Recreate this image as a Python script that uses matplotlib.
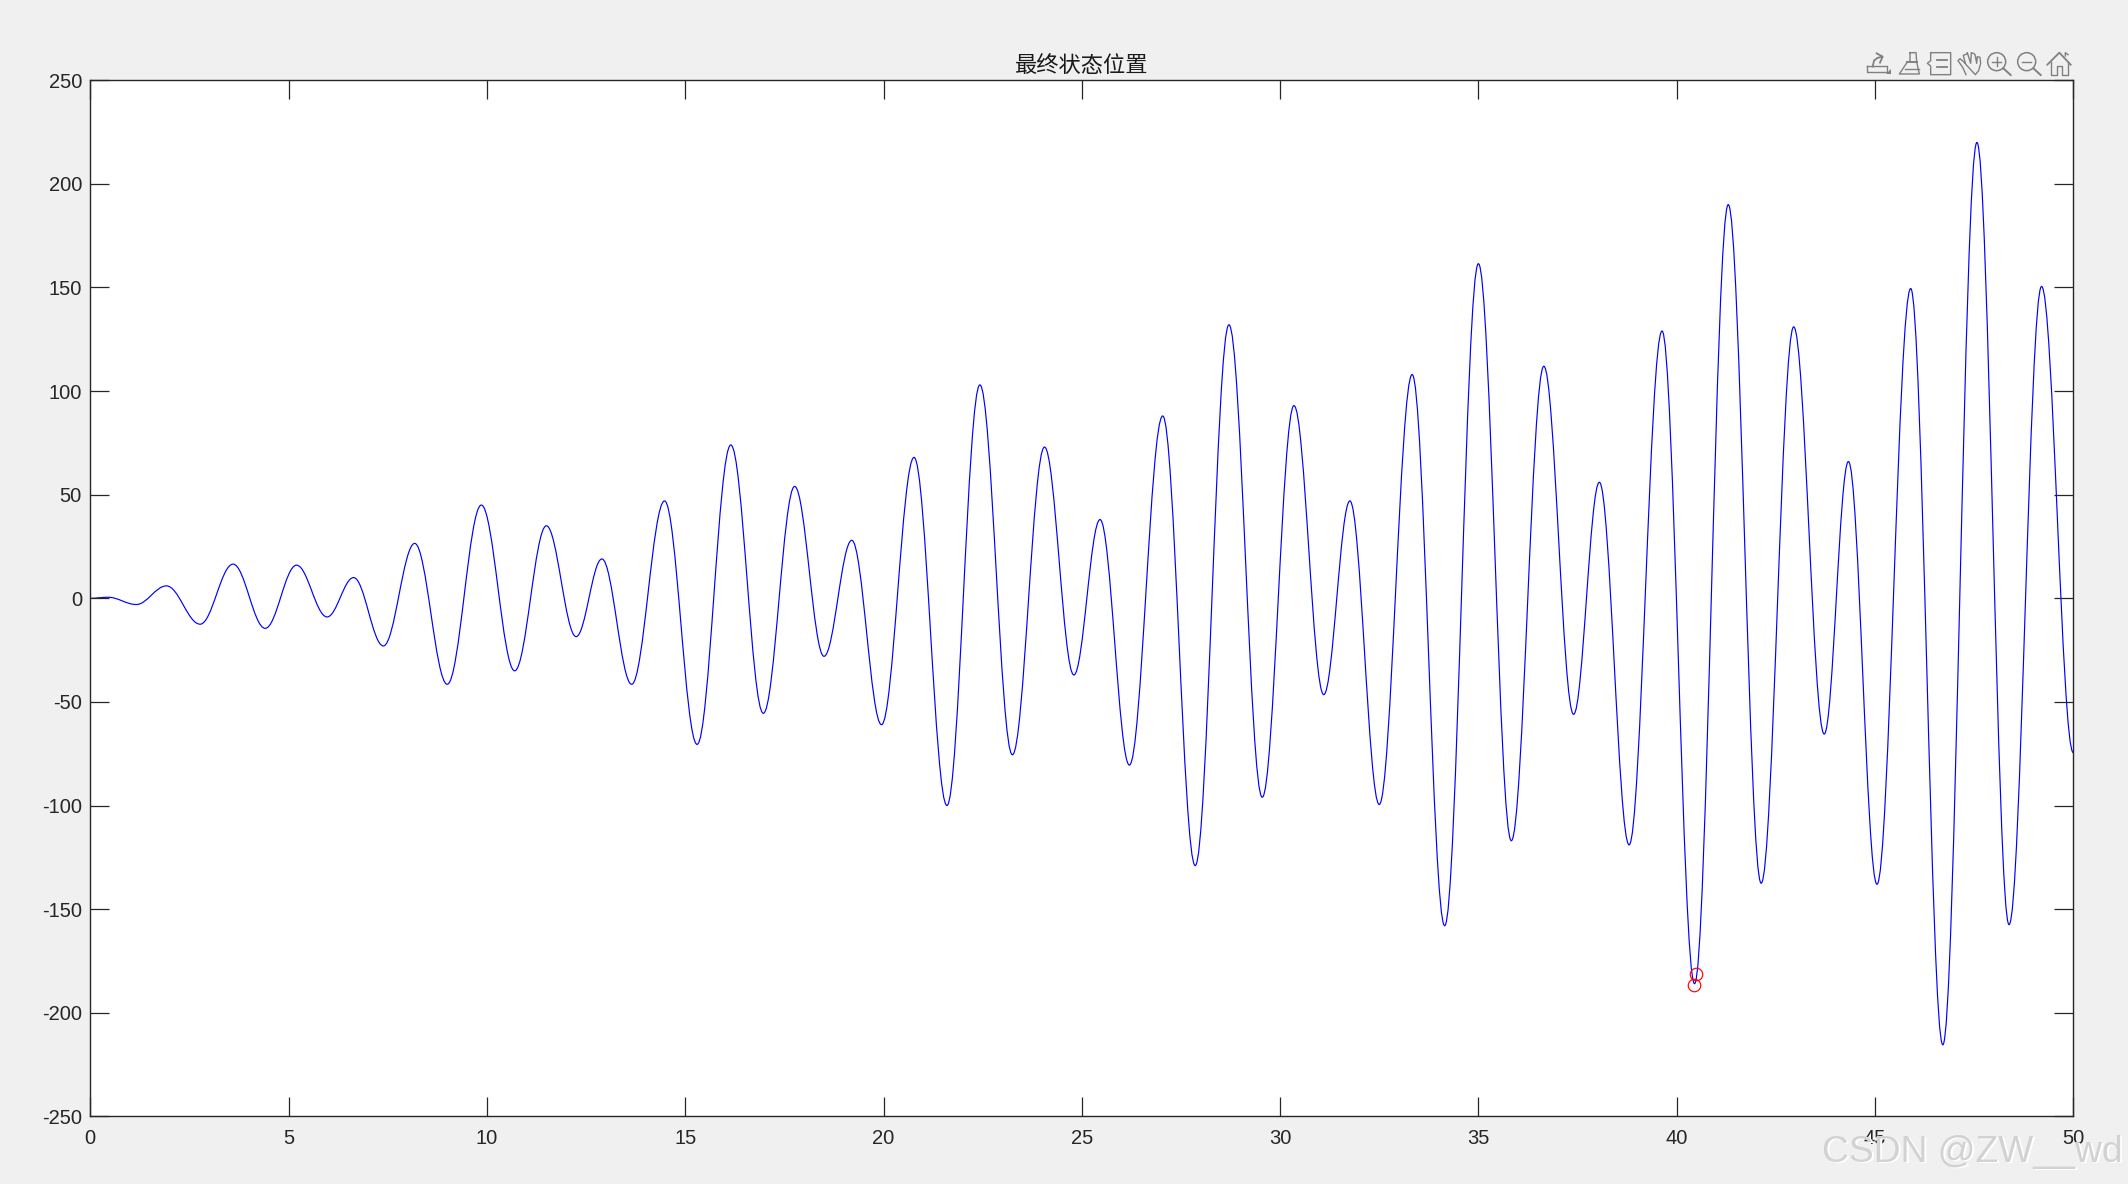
import matplotlib
matplotlib.use("Agg")
import matplotlib.pyplot as plt
from matplotlib.lines import Line2D
from matplotlib.patches import Circle, PathPatch, Polygon
from matplotlib.path import Path
from matplotlib.transforms import Affine2D

plt.rcParams["font.family"] = ["Liberation Sans", "Noto Sans CJK SC", "DejaVu Sans"]
plt.rcParams["axes.unicode_minus"] = False

# turning points of the curve
peak_t = [0, 0.45, 1.16, 1.92, 2.77, 3.6, 4.41, 5.2, 5.97, 6.64, 7.39, 8.18, 9.0,
          9.86, 10.7, 11.5, 12.25, 12.9, 13.65, 14.48, 15.3, 16.15, 16.97, 17.76,
          18.5, 19.2, 19.95, 20.77, 21.6, 22.43, 23.25, 24.06, 24.8, 25.46, 26.2,
          27.04, 27.86, 28.71, 29.55, 30.35, 31.1, 31.76, 32.5, 33.33, 34.15, 35.0,
          35.83, 36.65, 37.4, 38.05, 38.8, 39.63, 40.45, 41.3, 42.13, 42.95, 43.72,
          44.33, 45.05, 45.9, 46.71, 47.57, 48.38, 49.2, 50.0]
peak_y = [0, 0.5, -3, 6, -12.5, 16.5, -14.5, 16, -9, 10, -23, 26.5, -41.5,
          45, -35, 35, -18.5, 19, -41.5, 47, -70.5, 74, -55.5, 54,
          -28, 28, -61, 68, -100, 103, -75.5, 73, -37, 38, -80.5,
          88, -129, 132, -96, 93, -46.5, 47, -99.5, 108, -158, 161.5,
          -117, 112, -56, 56, -119, 129, -186, 190, -137.5, 131, -65.5,
          66, -138, 149.5, -215.5, 220, -157.5, 150.5, -74.5]

marker_t = [40.43, 40.49]
marker_y = [-186.6, -181.2]

x_ticks = list(range(0, 51, 5))
y_ticks = list(range(-250, 251, 50))

W, H = 2128, 1184
BG = "#f0f0f0"
DARK = "#262626"
ICON = "#808080"

fig = plt.figure(figsize=(W / 100, H / 100), dpi=100, facecolor=BG)
ax = fig.add_axes([90.3 / W, (H - 1116.3) / H, 1983 / W, 1036 / H])

# smooth curve through the turning points, flat tangent at each one
verts = [(peak_t[0], peak_y[0])]
codes = [Path.MOVETO]
for i in range(len(peak_t) - 1):
    dt = peak_t[i + 1] - peak_t[i]
    verts.append((peak_t[i] + 0.3642 * dt, peak_y[i]))
    verts.append((peak_t[i + 1] - 0.3642 * dt, peak_y[i + 1]))
    verts.append((peak_t[i + 1], peak_y[i + 1]))
    codes += [Path.CURVE4, Path.CURVE4, Path.CURVE4]
ax.add_patch(PathPatch(Path(verts, codes), fill=False, edgecolor="#0000ff", lw=0.85))

ax.plot(marker_t, marker_y, "o", mfc="none", mec="#ff0000", ms=9, mew=0.85, ls="none")

ax.set_xlim(0, 50)
ax.set_ylim(-250, 250)
ax.set_xticks(x_ticks)
ax.set_yticks(y_ticks)
ax.tick_params(axis="both", which="major", direction="in", top=True, right=True,
               length=13.5, width=0.9, color=DARK, labelcolor=DARK, labelsize=14.5)
ax.tick_params(axis="x", pad=9.5)
ax.tick_params(axis="y", pad=6)
for s in ax.spines.values():
    s.set_linewidth(1.0)
    s.set_color(DARK)

fig.text(1082 / W, 1 - 66 / H, "最终状态位置", fontsize=16, color="#1a1a1a",
         family=["Noto Sans CJK SC"], ha="center", va="center")

# MATLAB toolbar icons, coordinates in the 3x crop of the top right corner
tr = Affine2D().scale(1 / 3, -1 / 3).translate(1800, H - 30)


def icon_line(xs, ys, lw=1.0):
    fig.add_artist(Line2D(xs, ys, color=ICON, lw=lw, transform=tr))


def icon_glass(cx):
    fig.add_artist(Circle((cx, 95), 27, fill=False, ec=ICON, lw=1.1, transform=tr))
    icon_line([cx + 20, cx + 42], [115, 135], 1.4)
    icon_line([cx - 14, cx + 14], [95, 95])


# edit plot
icon_line([202, 202, 262, 262, 202], [108, 125, 125, 108, 108])
icon_line([218, 222, 232, 246], [110, 92, 84, 80], 1.3)
icon_line([230, 248, 240], [70, 80, 98], 1.3)
fig.add_artist(Polygon([(272, 118), (272, 132), (258, 132)], color=ICON, lw=0, transform=tr))
# brush
icon_line([330, 348, 350, 358, 298, 322, 330, 330], [68, 68, 96, 132, 132, 96, 96, 68])
icon_line([322, 352], [96, 96], 1.4)
icon_line([314, 356], [118, 118])
# legend
icon_line([392, 452, 452, 392, 392, 382, 392, 392], [68, 68, 134, 134, 108, 100, 92, 68])
icon_line([412, 442], [90, 90], 1.3)
icon_line([412, 442], [110, 110], 1.3)
# hand
icon_line([498, 488, 474, 480, 494, 500, 526, 536, 542, 540, 532, 530, 526, 524, 514, 512, 502, 500, 490, 496],
          [134, 112, 92, 86, 98, 106, 134, 122, 100, 82, 80, 100, 78, 72, 68, 100, 68, 72, 76, 100])
# zoom in and out
icon_glass(590)
icon_line([590, 590], [81, 109])
icon_glass(680)
# home
icon_line([742, 778, 812], [104, 68, 104], 1.3)
icon_line([752, 752, 772, 772, 786, 786, 804, 804], [96, 134, 134, 108, 108, 134, 134, 96])
icon_line([796, 796, 804], [78, 68, 74])

# CSDN watermark
wm = "CSDN @ZW__wd"
fig.text(1823.5 / W, 1 - 1163.5 / H, wm, fontsize=26.8, color="#ffffff", ha="left", va="baseline")
fig.text(1822 / W, 1 - 1162 / H, wm, fontsize=26.8, color="#d2d2d2", ha="left", va="baseline")

fig.savefig("out.png", dpi=100, facecolor=BG)
